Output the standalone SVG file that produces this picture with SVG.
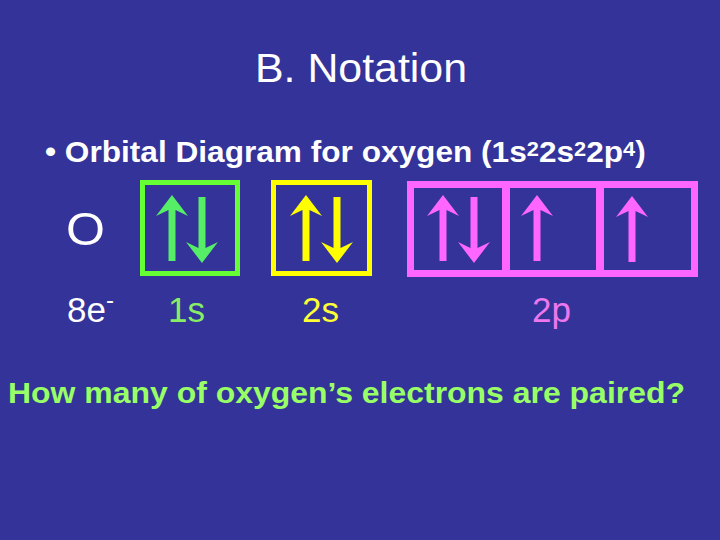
<svg xmlns="http://www.w3.org/2000/svg" width="720" height="540" viewBox="0 0 720 540">
<defs>
<style>
text{font-family:"Liberation Sans",Arial,sans-serif;fill:#fff}
.t{font-size:40px}
.b{font-size:29px;font-weight:bold}
.big{font-size:47px}
.lab{font-size:35px}
.q{font-size:29px;font-weight:bold;fill:#99ff66}
.box{fill:none}
.sup{font-size:20px}
</style>
<path id="up" d="M-3.5,66 V15 L-16,21 L0,0 L16,21 L3.5,15 V66 Z"/>
<path id="dn" d="M-3.5,0 V51 L-16,45 L0,66 L16,45 L3.5,51 V0 Z"/>
</defs>
<rect width="720" height="540" fill="#333399"/>
<text class="t" x="255" y="82" textLength="212" lengthAdjust="spacingAndGlyphs">B. Notation</text>
<g transform="translate(45,162) scale(1.09,1)">
<text class="b" x="0" y="0">• Orbital Diagram for oxygen (1s<tspan class="sup" dy="-6">2</tspan><tspan dy="6">2s</tspan><tspan class="sup" dy="-6">2</tspan><tspan dy="6">2p</tspan><tspan class="sup" dy="-6">4</tspan><tspan dy="6">)</tspan></text>
</g>
<g id="element">
<text class="big" x="66" y="245" textLength="39" lengthAdjust="spacingAndGlyphs">O</text>
<text class="lab" x="67" y="322">8e<tspan dy="-14" font-size="24">-</tspan></text>
</g>
<g id="orb1s">
<rect class="box" x="142.5" y="182.5" width="95" height="91" stroke="#66ff33" stroke-width="5"/>
<g fill="#55ee66"><use href="#up" x="172" y="195"/><use href="#dn" x="202" y="197"/></g>
<text class="lab" x="168" y="322" style="fill:#88ee66">1s</text>
</g>
<g id="orb2s">
<rect class="box" x="273.5" y="182.5" width="96" height="91" stroke="#ffff00" stroke-width="5"/>
<g fill="#ffff00"><use href="#up" x="306" y="195"/><use href="#dn" x="337" y="197"/></g>
<text class="lab" x="302" y="322" style="fill:#ffff33">2s</text>
</g>
<g id="orb2p">
<rect class="box" x="410.5" y="184.5" width="284" height="89" stroke="#ff66ff" stroke-width="7"/>
<line x1="506" y1="184" x2="506" y2="274" stroke="#ff66ff" stroke-width="8"/>
<line x1="600" y1="184" x2="600" y2="274" stroke="#ff66ff" stroke-width="8"/>
<g fill="#ff66ff"><use href="#up" x="443" y="195"/><use href="#dn" x="474" y="197"/><use href="#up" x="537" y="195"/><use href="#up" x="632" y="196"/></g>
<text class="lab" x="532" y="322" style="fill:#ee77ee">2p</text>
</g>
<text class="q" x="8" y="403" textLength="677" lengthAdjust="spacingAndGlyphs">How many of oxygen’s electrons are paired?</text>
</svg>
